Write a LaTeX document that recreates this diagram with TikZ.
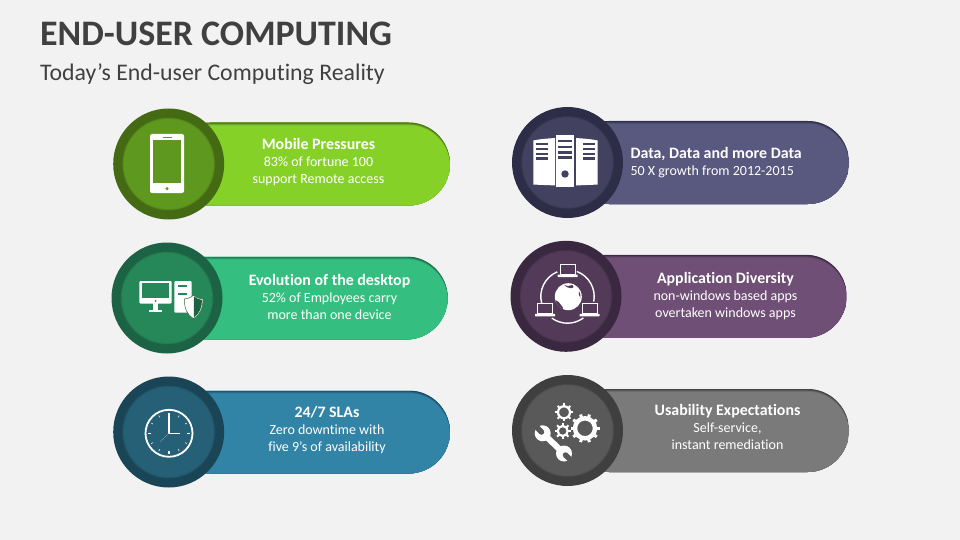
\documentclass[tikz,border=0pt]{standalone}
\usepackage{fontspec}
\setmainfont[Ligatures=NoCommon]{Carlito}
\usetikzlibrary{shapes.misc}
\definecolor{pageBg}{HTML}{F2F2F2}
\definecolor{titleInk}{HTML}{404040}
\definecolor{pillA}{HTML}{86D128}\definecolor{ringA}{HTML}{446A14}\definecolor{discA}{HTML}{5F981E}
\definecolor{pillB}{HTML}{34BF80}\definecolor{ringB}{HTML}{1B6344}\definecolor{discB}{HTML}{268858}
\definecolor{pillC}{HTML}{3284A6}\definecolor{ringC}{HTML}{1A4557}\definecolor{discC}{HTML}{256076}
\definecolor{pillD}{HTML}{59587F}\definecolor{ringD}{HTML}{2E2D47}\definecolor{discD}{HTML}{42415F}
\definecolor{pillE}{HTML}{6F4F75}\definecolor{ringE}{HTML}{392840}\definecolor{discE}{HTML}{523A58}
\definecolor{pillF}{HTML}{7A7A7A}\definecolor{ringF}{HTML}{3F3F3F}\definecolor{discF}{HTML}{595959}
\tikzset{
    pill/.style 2 args={rounded rectangle, inner sep=0pt, outer sep=0pt, minimum height=83pt, fill=#1,
        path picture={
            \fill[#2] (path picture bounding box.north west) rectangle (path picture bounding box.east);
            \foreach \d/\m in {.7/25,1.4/50,2.1/75,2.8/100}{
                \fill[#1!\m!#2, rounded corners=41.5pt]
                    ([xshift=-60pt,yshift=-\d pt]path picture bounding box.north west)
                    rectangle ([yshift=-\d pt]path picture bounding box.south east);
            }
        }},
    disc/.style={circle, inner sep=0pt, outer sep=0pt, minimum size=#1},
    cardtext/.style={text=white, align=center, font=\fontsize{14}{17}\selectfont},
    laptop/.style={draw=white, line width=1pt},
    hand/.style={white, line width=1.4pt}
}
\newcommand{\headline}[1]{{\bfseries\fontsize{15.9}{17}\selectfont #1}}
\newcommand{\cardbase}[7]{
    \pgfmathsetmacro{\pillmid}{(#2+#4)/2}
    \pgfmathsetmacro{\pillwide}{#4-#2}
    \node[pill={#5}{#6}, minimum width=\pillwide pt] (pill#1) at (\pillmid,#3) {};
    \node[disc=111pt, fill=#6] (ring#1) at (#2,#3) {};
    \foreach \r/\m in {93/30,92/60,91/85}{
        \node[disc=\r pt, fill=#7!\m!#6] (halo#1\r) at (ring#1) {};
    }
    \node[disc=89.5pt, fill=#7] (disc#1) at (ring#1) {};
}
\begin{document}
\begin{tikzpicture}[x=1pt,y=-1pt]
            \useasboundingbox (0,0) rectangle (960,540);
            \fill[pageBg] (0,0) rectangle (960,540);
            \node[anchor=base west, inner sep=0pt, text=titleInk, font=\bfseries\fontsize{35.9}{40}\selectfont] (title) at (40,45.7) {END-USER COMPUTING};
            \node[anchor=base west, inner sep=0pt, text=titleInk, font=\fontsize{23.8}{28}\selectfont] (subtitle) at (40,81) {Today’s End-user Computing Reality};
            \cardbase{A}{168.7}{164}{450}{pillA}{ringA}{discA}
            \cardbase{B}{167}{298}{447.7}{pillB}{ringB}{discB}
            \cardbase{C}{168.7}{432}{450}{pillC}{ringC}{discC}
            \cardbase{D}{567.5}{162.5}{849}{pillD}{ringD}{discD}
            \cardbase{E}{566}{296.3}{846.7}{pillE}{ringE}{discE}
            \cardbase{F}{567.5}{430.5}{849}{pillF}{ringF}{discF}
            \node[cardtext] (txtA) at (318.5,162) {\headline{Mobile Pressures}\\83\% of fortune 100\\support Remote access};
            \node[cardtext] (txtB) at (329.5,296.5) {\headline{Evolution of the desktop}\\52\% of Employees carry\\ more than one device};
            \node[cardtext] (txtC) at (327,430) {\headline{24/7 SLAs}\\Zero downtime with\\five 9’s of availability};
            \node[cardtext, align=left, anchor=west] (txtD) at (627,163) {\headline{Data, Data and more Data}\\50 X growth from 2012-2015};
            \node[cardtext] (txtE) at (725.5,296) {\headline{Application Diversity}\\non-windows based apps\\overtaken windows apps};
            \node[cardtext] (txtF) at (727.5,427) {\headline{Usability Expectations}\\Self-service,\\instant remediation};
            % phone
            \fill[white, rounded corners=2pt] (150,134) rectangle (184,193);
            \fill[discA] (153.3,140) rectangle (181,183.3);
            \draw[discA, line width=.8pt] (162.7,137) -- (171.7,137);
            \fill[discA] (167,188.7) circle [radius=1.7];
            % desktop
            \fill[white, rounded corners=1pt] (139.3,281) rectangle (171.7,303.5);
            \fill[discB] (141.7,283.3) rectangle (169.3,298.3);
            \fill[discB] (155.5,301) circle [radius=1];
            \fill[white] (152.7,303) rectangle (158.3,310);
            \fill[white] (149,310) rectangle (162.3,312);
            \fill[white, rounded corners=1pt] (174.3,281) rectangle (191.7,312.7);
            \fill[discB] (178.3,285) rectangle (186.7,287);
            \fill[discB] (178.3,292.5) rectangle (186.7,294.5);
            \fill[white, draw=ringB!70!olive, line width=.5pt] (193.5,295.3) .. controls (190,298) and (187,299) .. (184.3,299) .. controls (184.3,308) and (187,315) .. (193.5,318.7) .. controls (200,315) and (203,308) .. (203,299) .. controls (200,299) and (197,298) .. (193.5,295.3);
            \fill[ringB] (193.8,296.5) .. controls (196.5,298.5) and (199.5,299.7) .. (202,300) .. controls (202,307.5) and (199.5,313.5) .. (193.8,317.5) -- cycle;
            % clock
            \draw[white, line width=1.8pt] (169,433.3) circle [radius=23.5];
            \foreach \a in {0,90,180,270}{
                \draw[white, line width=1.3pt] (169,433.3) ++(\a:17.7) -- ++(\a:3);
            }
            \foreach \a in {30,60,120,150,210,240,300,330}{
                \draw[white!85!discC, line width=.7pt] (169,433.3) ++(\a:18.5) -- ++(\a:2);
            }
            \draw[hand] (169,433.8) -- (169,415);
            \draw[hand] (168.4,433.3) -- (180,433.3);
            \draw[white!50!discC, line width=.3pt] (169,433.3) -- (160,441.7);
            % servers
            \fill[white] (556,135) rectangle (574,187);
            \fill[white] (533.3,140.5) .. controls (540,139) and (548,138.5) .. (555,138) -- (555,185.5) .. controls (548,185) and (540,185) .. (533.3,184.5) -- cycle;
            \fill[white] (597.7,140.5) .. controls (591,139) and (583,138.5) .. (576,138) -- (576,185.5) .. controls (583,185) and (591,185) .. (597.7,184.5) -- cycle;
            \foreach \sy in {141,147,152.3,157.7}{
                \draw[discD, line width=2.5pt] (558.3,\sy) -- (571.7,\sy);
            }
            \foreach \sy in {144,149,154,158.7}{
                \draw[discD, line width=2.5pt] (535.7,\sy) -- (547.7,\sy);
                \draw[discD, line width=2.5pt] (583.3,\sy) -- (595,\sy);
            }
            \fill[discD] (565,174) circle [radius=3.7];
            % network
            \foreach \lx/\ly in {567.5/264,545/303.3,589.5/303.3}{
                \draw[laptop] (\lx-7.5,\ly) rectangle (\lx+7.5,\ly+10.5);
                \fill[white, rounded corners=.5pt] (\lx-10,\ly+10.5) rectangle (\lx+10,\ly+13);
            }
            \draw[hand] (567.5,296.5) ++(-112.5:26.7) arc [start angle=-112.5, end angle=-194.6, radius=26.7];
            \draw[hand] (567.5,296.5) ++(-69.5:26.7) arc [start angle=-69.5, end angle=11, radius=26.7];
            \draw[hand] (567.5,296.5) ++(53.5:26.7) arc [start angle=53.5, end angle=126, radius=26.7];
            \fill[white] (568.3,296.7) circle [radius=13.5];
            \fill[discE] (564,284.8) .. controls (567,286.5) and (570,286) .. (572,285) .. controls (575,287) and (573,288.5) .. (570,288) .. controls (568,288) and (566,287) .. (564,284.8) -- cycle;
            \fill[discE] (555.5,300) .. controls (558,301) and (560,303) .. (561,305) .. controls (563,307) and (564,309) .. (562.5,309) .. controls (559,307) and (556,304) .. (555.5,300) -- cycle;
            \fill[discE] (579,291) .. controls (580,293) and (581,296) .. (580.5,298) .. controls (579,296) and (578,293) .. (579,291) -- cycle;
            % gears and wrench
            \foreach \gx/\gy/\gmid/\gwide/\gtip/\gbar/\gstep in {585/428.3/10/4.4/14.5/3/36, 564/412.3/6/2.2/9/2/45, 562.7/431/5/2.2/8/2/45}{
                \draw[white, line width=\gwide pt] (\gx,\gy) circle [radius=\gmid];
                \foreach \a in {0,\gstep,...,359}{
                    \draw[white, line width=\gbar pt] (\gx,\gy) ++(\a:\gmid) -- ++(\a:\gtip-\gmid);
                }
            }
            \draw[white, line width=6pt] (543,433.5) -- (563.5,453);
            \fill[white] (542.7,433.3) circle [radius=8];
            \fill[white] (564,453.5) circle [radius=8];
            \draw[discF, line width=5.5pt] (541.5,432) -- (533,423.5);
            \draw[discF, line width=5.5pt] (565.5,455) -- (574,463.5);
            \fill[discF] (541.5,432) circle [radius=2.75];
            \fill[discF] (565.5,455) circle [radius=2.75];
        \end{tikzpicture}
\end{document}
